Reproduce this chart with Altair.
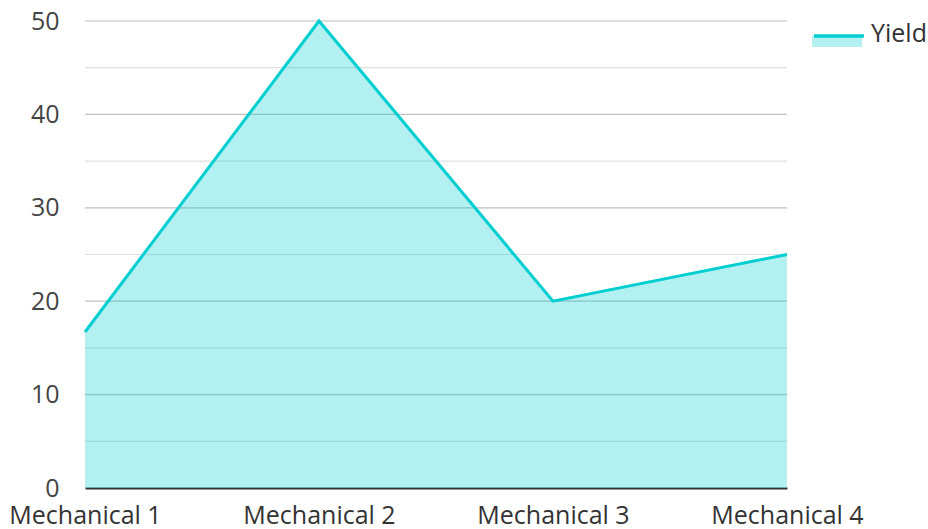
import altair as alt
import pandas as pd

categories = ["Mechanical 1", "Mechanical 2", "Mechanical 3", "Mechanical 4"]
yield_values = [16.7, 50, 20, 25]
series_name = "Yield"
major_grid = [10, 20, 30, 40, 50]
minor_grid = [5, 15, 25, 35, 45]
y_ticks = [0, 10, 20, 30, 40, 50]

LINE = "#00CED1"
FONT = "Open Sans"
FS = 25

df = pd.DataFrame({"category": categories, "value": yield_values, "series": [series_name] * len(categories)})
df_major = pd.DataFrame({"g": major_grid})
df_minor = pd.DataFrame({"g": minor_grid})

x = alt.X("category:N", sort=categories, scale=alt.Scale(type="point", padding=0),
          axis=alt.Axis(title=None, labelAngle=0, ticks=False, domainColor="#333333", domainWidth=2,
                        labelFontSize=FS, labelColor="#333333", labelPadding=15, labelFont=FONT))
yscale = alt.Scale(domain=[0, 50], nice=False)
yaxis = alt.Axis(title=None, values=y_ticks, grid=False, domain=False, ticks=False,
                 labelFontSize=FS, labelColor="#444444", labelPadding=26, labelFont=FONT)

minor = alt.Chart(df_minor).mark_rule(color="#e0e0e0", strokeWidth=1.2).encode(
    y=alt.Y("g:Q", scale=yscale, axis=yaxis))
major = alt.Chart(df_major).mark_rule(color="#c0c0c0", strokeWidth=1.2).encode(
    y=alt.Y("g:Q", scale=yscale))

area = alt.Chart(df).mark_area(fillOpacity=0.3).encode(
    x=x,
    y=alt.Y("value:Q", scale=yscale),
    fill=alt.Fill("series:N", scale=alt.Scale(range=[LINE]),
                  legend=alt.Legend(title=None, orient="none", legendX=727, legendY=-12,
                                    symbolType="M-1,0.07H1V0.52H-1Z", symbolSize=2500,
                                    symbolOpacity=0.3, symbolStrokeWidth=0,
                                    labelFontSize=FS, labelColor="#333333", labelFont=FONT,
                                    labelOffset=9)),
)

line = alt.Chart(df).mark_line(strokeWidth=3).encode(
    x=x,
    y=alt.Y("value:Q", scale=yscale),
    stroke=alt.Stroke("series:N", scale=alt.Scale(range=[LINE]),
                      legend=alt.Legend(title=None, orient="none", legendX=727, legendY=-12,
                                        symbolType="M-1,0H1", symbolSize=2500,
                                        symbolStrokeWidth=3.5,
                                        labelFontSize=FS, labelExpr="''", labelFont=FONT,
                                        labelOffset=9)),
)

chart = alt.layer(minor, major, area, line).resolve_scale(fill="independent", stroke="independent").properties(
    width=702, height=467,
    autosize=alt.AutoSizeParams(type="none"),
    padding={"left": 85, "top": 21, "right": 141, "bottom": 41},
).configure(font=FONT, view=alt.ViewConfig(strokeWidth=0, stroke=None))

chart.save("out.html", embed_options={"renderer": "svg", "actions": False})
